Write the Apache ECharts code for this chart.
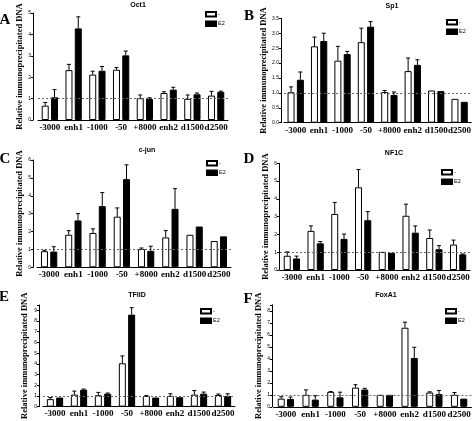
<!DOCTYPE html>
<html>
<head>
<meta charset="utf-8">
<script src="https://cdn.jsdelivr.net/npm/echarts@6/dist/echarts.min.js"></script>
<style>
  html, body { margin: 0; padding: 0; background: #fff; }
  #chart { width: 474px; height: 421px; }
</style>
</head>
<body>
<div id="chart"></div>
<script>
// categories shared by all panels
const categories = ['-3000', 'enh1', '-1000', '-50', '+8000', 'enh2', 'd1500', 'd2500'];
const titles = ['Oct1', 'Sp1', 'c-jun', 'NF1C', 'TFIID', 'FoxA1'];
const letters = ['A', 'B', 'C', 'D', 'E', 'F'];

// Oct1
const oct1Ctrl = [0.67, 2.33, 2.12, 2.35, 1.02, 1.26, 0.99, 1.14];
const oct1CtrlErr = [0.15, 0.27, 0.16, 0.10, 0.15, 0.06, 0.18, 0.20];
const oct1E2 = [1.06, 4.28, 2.30, 3.02, 0.98, 1.42, 1.20, 1.32];
const oct1E2Err = [0.36, 0.54, 0.20, 0.20, 0.06, 0.11, 0.06, 0.03];
// Sp1
const sp1Ctrl = [1.02, 2.56, 2.08, 2.70, 1.03, 1.73, 1.08, 0.80];
const sp1CtrlErr = [0.18, 0.31, 0.48, 0.47, 0.05, 0.44, 0, 0];
const sp1E2 = [1.44, 2.74, 2.30, 3.22, 0.93, 1.94, 1.06, 0.70];
const sp1E2Err = [0.26, 0.26, 0.09, 0.17, 0.10, 0.17, 0, 0];
// c-jun
const cjunCtrl = [0.90, 1.82, 1.92, 2.83, 1.02, 1.67, 1.82, 1.47];
const cjunCtrlErr = [0.05, 0.23, 0.23, 0.49, 0.06, 0.38, 0, 0];
const cjunE2 = [0.88, 2.62, 3.42, 4.93, 0.92, 3.27, 2.28, 1.73];
const cjunE2Err = [0.27, 0.38, 0.76, 0.80, 0.26, 1.13, 0, 0];
// NF1C
const nf1cCtrl = [0.80, 2.20, 3.15, 4.65, 1.02, 3.05, 1.80, 1.43];
const nf1cCtrlErr = [0.22, 0.28, 0.65, 1.00, 0, 0.65, 0.45, 0.25];
const nf1cE2 = [0.65, 1.50, 1.75, 2.80, 0.97, 2.10, 1.17, 0.88];
const nf1cE2Err = [0.13, 0.10, 0.27, 0.48, 0, 0.38, 0.20, 0.02];
// TFIID
const tfiidCtrl = [0.70, 1.12, 1.06, 4.05, 1.00, 1.00, 1.12, 1.09];
const tfiidCtrlErr = [0.15, 0.33, 0.27, 0.69, 0.03, 0.20, 0.38, 0.09];
const tfiidE2 = [0.85, 1.58, 1.21, 8.60, 0.85, 0.88, 1.21, 1.00];
const tfiidE2Err = [0, 0.06, 0.06, 0.65, 0, 0, 0.15, 0.20];
// FoxA1
const foxa1Ctrl = [0.68, 1.00, 1.25, 1.60, 1.00, 6.59, 1.19, 1.00];
const foxa1CtrlErr = [0.16, 0.41, 0.02, 0.24, 0, 0.46, 0.06, 0.19];
const foxa1E2 = [0.65, 0.60, 0.79, 1.44, 1.00, 4.07, 1.06, 0.68];
const foxa1E2Err = [0.16, 0.32, 0.43, 0.10, 0, 0.89, 0.30, 0];

const panelData = [
  [oct1Ctrl, oct1CtrlErr, oct1E2, oct1E2Err],
  [sp1Ctrl, sp1CtrlErr, sp1E2, sp1E2Err],
  [cjunCtrl, cjunCtrlErr, cjunE2, cjunE2Err],
  [nf1cCtrl, nf1cCtrlErr, nf1cE2, nf1cE2Err],
  [tfiidCtrl, tfiidCtrlErr, tfiidE2, tfiidE2Err],
  [foxa1Ctrl, foxa1CtrlErr, foxa1E2, foxa1E2Err]
];

// y-axis ranges
const yMax = [5, 3.5, 6, 6, 9.5, 8.5];
const yStep = [1, 0.5, 1, 1, 1, 1];

// layout of each panel
const layouts = [
  { left: 38, top: 13, width: 190, height: 107, off: 5, gap: 6, leg: [205, 11], title: [138, 5], letter: [5, 20] },
  { left: 284, top: 18.3, width: 189, height: 104.4, off: 3, gap: 8, leg: [446, 19], title: [392, 6], letter: [249, 16] },
  { left: 37, top: 160, width: 194, height: 107.3, off: 4, gap: 7, leg: [206, 160], title: [147, 150], letter: [5, 159] },
  { left: 280, top: 163.3, width: 190, height: 106.7, off: 1, gap: 9, leg: [441, 169], title: [394, 153], letter: [249, 159] },
  { left: 43, top: 305, width: 192, height: 105, off: 4, gap: 10, leg: [200, 308], title: [137, 295], letter: [4, 297] },
  { left: 273.5, top: 304.8, width: 198, height: 104.5, off: 1.5, gap: 3, leg: [445, 308], title: [386, 295], letter: [248, 299] }
];

const BAR_W = 7;
const BAR_GAP = '33%';
const HALF_SHIFT = (BAR_W + BAR_W * 0.33) / 2;

const chart = echarts.init(document.getElementById('chart'));

function errorBar(shift) {
  return function (params, api) {
    const err = api.value(2);
    if (!err) return null;
    const c = api.value(0);
    const base = api.coord([c, api.value(1)]);
    const top = api.coord([c, api.value(1) + err]);
    const x = base[0] + shift;
    const st = { stroke: '#000', lineWidth: 1 };
    return {
      type: 'group',
      children: [
        { type: 'line', shape: { x1: x, y1: base[1], x2: x, y2: top[1] }, style: st },
        { type: 'line', shape: { x1: x - 2, y1: top[1], x2: x + 2, y2: top[1] }, style: st }
      ]
    };
  };
}

const grid = [], xAxis = [], yAxis = [], series = [], legend = [], graphic = [];

layouts.forEach((L, i) => {
  const [ctrl, ctrlErr, e2, e2Err] = panelData[i];
  grid.push({ left: L.left, top: L.top, width: L.width, height: L.height });
  xAxis.push({
    type: 'category', gridIndex: i, data: categories,
    axisLine: { lineStyle: { color: '#000', width: 1 } },
    axisTick: { show: false },
    axisLabel: {
      interval: 0, margin: 3, color: '#000',
      fontFamily: 'Liberation Serif', fontWeight: 'bold', fontSize: 9
    }
  });
  yAxis.push({
    type: 'value', gridIndex: i, min: 0, max: yMax[i], interval: yStep[i],
    offset: L.off,
    splitLine: { show: false },
    axisLine: { show: true, lineStyle: { color: '#000', width: 1 } },
    axisTick: { show: true, length: 2, lineStyle: { color: '#000' } },
    axisLabel: {
      margin: 2, color: '#000', fontFamily: 'Liberation Sans', fontSize: 5,
      formatter: v => (yStep[i] < 1 ? v.toFixed(1) : (Number.isInteger(v) ? String(v) : ''))
    },
    name: 'Relative immunoprecipitated DNA',
    nameLocation: 'middle', nameGap: L.gap,
    nameTextStyle: { fontFamily: 'Liberation Serif', fontWeight: 'bold', fontSize: 8.5, color: '#000' }
  });
  series.push({
    name: '-', type: 'bar', xAxisIndex: i, yAxisIndex: i,
    barWidth: BAR_W, barGap: BAR_GAP,
    itemStyle: { color: '#fff', borderColor: '#000', borderWidth: 1 },
    data: ctrl,
    markLine: {
      silent: true, symbol: 'none', animation: false,
      label: { show: false },
      lineStyle: { type: [2, 2], color: '#666', width: 1 },
      data: [{ yAxis: 1 }]
    }
  });
  series.push({
    name: 'E2', type: 'bar', xAxisIndex: i, yAxisIndex: i,
    barWidth: BAR_W, barGap: BAR_GAP,
    itemStyle: { color: '#000', borderColor: '#000', borderWidth: 1 },
    data: e2
  });
  series.push({
    type: 'custom', xAxisIndex: i, yAxisIndex: i, z: 5,
    renderItem: errorBar(-HALF_SHIFT),
    data: categories.map((c, k) => [c, ctrl[k], ctrlErr[k]])
  });
  series.push({
    type: 'custom', xAxisIndex: i, yAxisIndex: i, z: 5,
    renderItem: errorBar(HALF_SHIFT),
    data: categories.map((c, k) => [c, e2[k], e2Err[k]])
  });
  legend.push({
    data: ['-', 'E2'], orient: 'vertical', left: L.leg[0], top: L.leg[1],
    icon: 'rect', itemWidth: 10, itemHeight: 4.5, itemGap: 3, padding: 0,
    selectedMode: false,
    textStyle: { fontFamily: 'Liberation Sans', fontSize: 5.5, color: '#000', padding: [0, 0, 0, -3], lineHeight: 6 }
  });
  graphic.push({
    type: 'text', x: L.title[0], y: L.title[1],
    style: {
      text: titles[i], fill: '#000', font: 'bold 7px "Liberation Sans"',
      textAlign: 'center', textVerticalAlign: 'middle', align: 'center', verticalAlign: 'middle'
    }
  });
  graphic.push({
    type: 'text', x: L.letter[0], y: L.letter[1],
    style: {
      text: letters[i], fill: '#000', font: 'bold 15px "Liberation Serif"',
      textAlign: 'center', textVerticalAlign: 'middle', align: 'center', verticalAlign: 'middle'
    }
  });
});

chart.setOption({
  animation: false,
  backgroundColor: '#fff',
  grid, xAxis, yAxis, series, legend, graphic
});
</script>
</body>
</html>
